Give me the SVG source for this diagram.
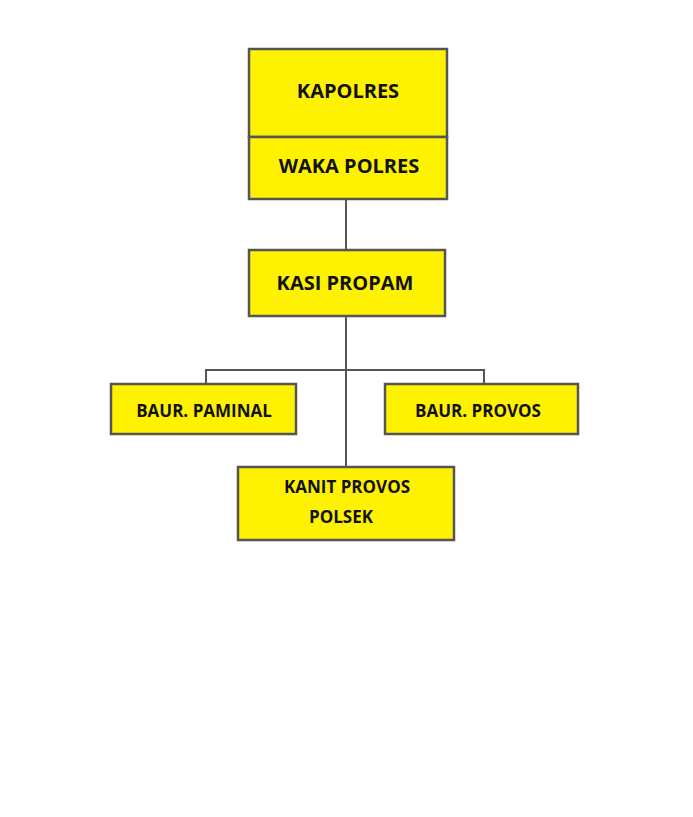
<svg xmlns="http://www.w3.org/2000/svg" width="693" height="817" viewBox="0 0 693 817">
<style>
.box{fill:#fff200;stroke:#555;stroke-width:2.5}
.t{font-family:"Open Sans","Liberation Sans",sans-serif;font-weight:bold;fill:#111;text-anchor:middle}
.ln{stroke:#555;stroke-width:2;fill:none}
</style>
<rect width="693" height="817" fill="#fff"/>
<g id="connectors">
<path class="ln" d="M346 199V250M346 316V467M206 384V370H484V384"/>
</g>
<g id="kapolres"><rect class="box" x="249" y="49" width="198" height="88"/><text class="t" x="348" y="98" font-size="20">KAPOLRES</text></g>
<g id="waka"><rect class="box" x="249" y="137" width="198" height="62"/><text class="t" x="349" y="173" font-size="20">WAKA POLRES</text></g>
<g id="kasi"><rect class="box" x="249" y="250" width="196" height="66"/><text class="t" x="345" y="290" font-size="20">KASI PROPAM</text></g>
<g id="paminal"><rect class="box" x="111" y="384" width="185" height="50"/><text class="t" x="204" y="417" font-size="17">BAUR. PAMINAL</text></g>
<g id="provos"><rect class="box" x="385" y="384" width="193" height="50"/><text class="t" x="478" y="417" font-size="17">BAUR. PROVOS</text></g>
<g id="kanit"><rect class="box" x="238" y="467" width="216" height="73"/><text class="t" x="347" y="493" font-size="17">KANIT PROVOS</text><text class="t" x="341" y="523" font-size="17">POLSEK</text></g>
</svg>
